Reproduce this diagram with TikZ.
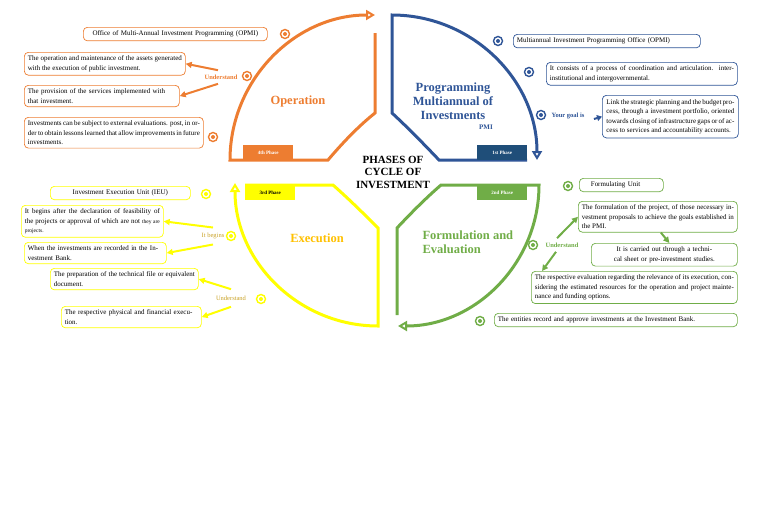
\documentclass[tikz,border=0pt]{standalone}
\usepackage{fontspec}
\setmainfont{Liberation Serif}
\usetikzlibrary{arrows.meta,calc}
\definecolor{cor}{HTML}{ED7D31}
\definecolor{cbl}{HTML}{2F5597}
\definecolor{cdb}{HTML}{1F4E79}
\definecolor{cye}{HTML}{FFFF00}
\definecolor{cgo}{HTML}{FFC000}
\definecolor{cgd}{HTML}{C9A227}
\definecolor{cgr}{HTML}{70AD47}
\begin{document}
\begin{tikzpicture}[x=1pt,y=-1pt,
  big/.style={line width=3pt, -{Triangle[open,length=9,width=10,line width=2pt]}},
  box/.style={draw, rounded corners=4, line width=0.7pt, fill=white, inner sep=3.5pt, anchor=north west, font=\fontsize{7}{9.4}\selectfont, align=justify},
  ptr/.style={line width=2pt, -{Triangle[length=6,width=6]}},
  phase/.style={minimum width=50, minimum height=15, inner sep=0, font=\bfseries\fontsize{5}{6}\selectfont, anchor=north west},
  ttl/.style={font=\bfseries\fontsize{12.5}{14}\selectfont, align=center},
  lbl/.style={font=\bfseries\fontsize{6.5}{8}\selectfont}]
\useasboundingbox (0,0) rectangle (768,504);
\tikzset{icon/.pic={\draw[line width=1.4pt] (0,0) circle (4.5); \fill (0,0) circle (2);}}
% quadrants
\draw[cor,big] (375,33) -- (375,113) .. controls (360,125) and (345,140) .. (328,160) -- (230,160) arc[start angle=180,end angle=270,radius=145];
\draw[cbl,big] (527,160) -- (439,160) .. controls (420,140) and (405,125) .. (392,113) -- (392,15) arc[start angle=-90,end angle=0,radius=145];
\draw[cye,big] (245,185) -- (333,185) .. controls (350,200) and (365,215) .. (378,228) -- (378,326) arc[start angle=90,end angle=180,radius=143];
\draw[cgr,big] (397,315) -- (397,228) .. controls (412,212) and (426,198) .. (441,185) -- (539,185) arc[start angle=0,end angle=90,radius=141];
% phase boxes
\node[phase,fill=cor,text=white] (p4) at (243,145) {4th Phase};
\node[phase,fill=cdb,text=white] (p1) at (477,145) {1st Phase};
\node[phase,fill=cye,text=black] (p3) at (245,185) {3rd Phase};
\node[phase,fill=cgr,text=white] (p2) at (477,185) {2nd Phase};
% titles
\node[font=\bfseries\fontsize{11}{12.5}\selectfont,align=center] (ctr) at (393,172) {PHASES OF\\CYCLE OF\\INVESTMENT};
\node[ttl,text=cor] (top) at (298,101) {Operation};
\node[ttl,text=cbl] (tpmi) at (453,101) {Programming\\Multiannual of\\Investments};
\node[text=cbl,font=\bfseries\fontsize{7}{8}\selectfont] (pmi) at (486,127) {PMI};
\node[ttl,text=cgo] (tex) at (317,238) {Execution};
\node[ttl,text=cgr,align=left,anchor=west] (tfe) at (419,242) {Formulation and\\Evaluation};
% orange side
\node[box,draw=cor,text width=177,align=center] (o1) at (83,27) {Office of Multi-Annual Investment Programming (OPMI)};
\node[box,draw=cor,text width=154] (o2) at (24,52) {The operation and maintenance of the assets generated with the execution of public investment.};
\node[box,draw=cor,text width=148,align=left] (o3) at (24,85) {The provision of the services implemented with that investment.};
\node[box,draw=cor,text width=172] (o4) at (24,117) {Investments can be subject to external evaluations. post, in order to obtain lessons learned that allow improvements in future investments.};
\pic[cor] at (285,34) {icon};
\pic[cor] at (247,76) {icon};
\pic[cor] at (213,137) {icon};
\node[lbl,text=cor] (ou) at (221,77) {Understand};
\draw[ptr,cor] (ou.north) ++(-3,-1) -- (o2.east);
\draw[ptr,cor] (ou.south) ++(-3,1) -- (o3.east);
% blue side
\pic[cbl] at (498,41) {icon};
\pic[cbl] at (529,72) {icon};
\pic[cbl] at (541,115) {icon};
\node[box,draw=cbl,text width=180,align=left] (b1) at (513,34) {Multiannual Investment Programming Office (OPMI)};
\node[box,draw=cbl,text width=184] (b2) at (546,62) {It consists of a process of coordination and articulation. inter-institutional and intergovernmental.};
\node[box,draw=cbl,text width=128,inner sep=4pt] (b3) at (602,95) {Link the strategic planning and the budget process, through a investment portfolio, oriented towards closing of infrastructure gaps or of access to services and accountability accounts.};
\node[lbl,text=cbl,anchor=west] (bg) at (548,116) {Your goal is};
\draw[cbl,line width=2pt,-{Triangle[length=5,width=6]}] (bg.east) ++(6,3) -- (b3.west);
% yellow side
\pic[cye] at (206,194) {icon};
\pic[cye] at (231,236) {icon};
\pic[cye] at (261,299) {icon};
\node[box,draw=cye,text width=133,align=center] (y1) at (50,186) {Investment Execution Unit (IEU)};
\node[box,draw=cye,text width=135] (y2) at (21,205) {It begins after the declaration of feasibility of the projects or approval of which are not {\fontsize{5.5}{6}\selectfont they are projects.}};
\node[box,draw=cye,text width=135,align=left] (y3) at (24,242) {When the investments are recorded in the Investment Bank.};
\node[box,draw=cye,text width=141] (y4) at (50,268) {The preparation of the technical file or equivalent document.};
\node[box,draw=cye,text width=133,align=left] (y5) at (61,306) {The respective physical and financial execution.};
\node[lbl,text=cgd,font=\fontsize{6.5}{8}\selectfont] (yb) at (213,236) {It begins};
\node[lbl,text=cgd,font=\fontsize{6.5}{8}\selectfont] (yu) at (231,298) {Understand};
\draw[ptr,cye] (yb.north) ++(0,-2) -- (y2.east);
\draw[ptr,cye] (yb.south) ++(0,2) -- (y3.east);
\draw[ptr,cye] (yu.north) ++(0,-3) -- (y4.east);
\draw[ptr,cye] (yu.south) ++(0,3) -- (y5.east);
% green side
\pic[cgr] at (568,186) {icon};
\pic[cgr] at (533,245) {icon};
\pic[cgr] at (480,321) {icon};
\node[box,draw=cgr,text width=77,align=left] (g1) at (579,178) {\hspace*{8pt}Formulating Unit};
\node[box,draw=cgr,text width=152] (g2) at (578,201) {The formulation of the project, of those necessary investment proposals to achieve the goals established in the PMI.};
\node[box,draw=cgr,text width=139,align=center] (g3) at (591,243) {It is carried out through a technical sheet or pre-investment studies.};
\node[box,draw=cgr,text width=199] (g4) at (531,271) {The respective evaluation regarding the relevance of its execution, considering the estimated resources for the operation and project maintenance and funding options.};
\node[box,draw=cgr,text width=236,align=left] (g5) at (494,313) {The entities record and approve investments at the Investment Bank.};
\node[lbl,text=cgr] (gu) at (562,245) {Understand};
\draw[ptr,cgr] (gu.north) ++(-5,-1) -- (g2.west);
\draw[ptr,cgr] (gu.south) ++(-6,1) -- (g4.north -| gu.west);
\draw[ptr,cgr] ($(g2.south)+(3,0)$) -- ($(g3.north)+(5,0)$);
\end{tikzpicture}
\end{document}
